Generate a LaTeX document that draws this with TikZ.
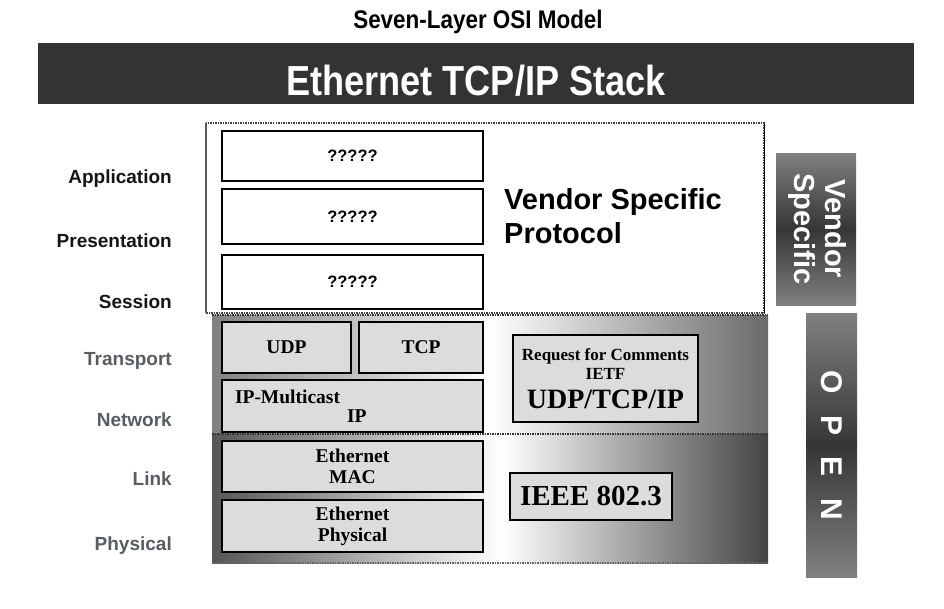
\documentclass[tikz,border=0pt]{standalone}
\usepackage{fontspec}
\setmainfont{Liberation Serif}
\setsansfont{Liberation Sans}
\newfontfamily\barfont[FakeStretch=0.86]{Liberation Sans}
\newfontfamily\titlefont[FakeStretch=0.88]{Liberation Sans}
\usetikzlibrary{calc}
\definecolor{bardark}{HTML}{333333}
\definecolor{labelgray}{HTML}{585D63}
\definecolor{labelblack}{HTML}{151515}
\definecolor{boxgray}{HTML}{DCDCDC}
\definecolor{upperleft}{HTML}{808080}
\definecolor{upperright}{HTML}{6A6A6A}
\definecolor{lowerleft}{HTML}{555555}
\definecolor{lowerright}{HTML}{444444}
\definecolor{tabgray}{HTML}{808080}
\definecolor{tabdark}{HTML}{363636}
\pgfdeclarehorizontalshading{upperband}{100bp}{color(0bp)=(upperleft); color(25bp)=(upperleft);
  color(50bp)=(white); color(75bp)=(upperright); color(100bp)=(upperright)}
\pgfdeclarehorizontalshading{lowerband}{100bp}{color(0bp)=(lowerleft); color(25bp)=(lowerleft);
  color(51bp)=(white); color(75bp)=(lowerright); color(100bp)=(lowerright)}
\tikzstyle{layer} = [anchor=base east, inner sep=0pt,
    font=\sffamily\bfseries\fontsize{19}{19}\selectfont]
\tikzstyle{qbox} = [rectangle, draw, line width=2pt, fill=white, inner sep=0pt,
    font=\sffamily\bfseries\fontsize{16.5}{16.5}\selectfont]
\tikzstyle{gbox} = [rectangle, draw, line width=2pt, fill=boxgray, inner sep=0pt,
    align=center, font=\bfseries\fontsize{19.5}{21}\selectfont]
\tikzstyle{stdbox} = [rectangle, draw, line width=1.2pt, fill=boxgray, inner sep=0pt,
    align=center]
\tikzstyle{tab} = [rectangle, top color=tabgray, bottom color=tabgray, middle color=tabdark,
    text=white, inner sep=0pt, font=\sffamily\bfseries]
\tikzstyle{edge} = [densely dotted, line width=1.5pt]

\begin{document}
\begin{tikzpicture}[x=1pt,y=-1pt]
    \useasboundingbox (0,0) rectangle (944,608);
    % Title and bar
    \node (title) at (478,22) {\titlefont\bfseries\fontsize{25.5}{25.5}\selectfont Seven-Layer OSI Model};
    \node[rectangle, fill=bardark, minimum width=876pt, minimum height=61pt, inner sep=0pt,
      text=white, text height=44pt, text depth=0pt] (stack) at (476,73.5)
      {\barfont\bfseries\fontsize{42}{42}\selectfont Ethernet TCP/IP Stack};
    % Bands
    \draw[edge, darkgray] (206,123) rectangle (764,313);
    \draw[line width=1.5pt, gray!70!black] (206,123) -- (206,313);
    \draw[line width=1pt, black] (764,123) -- (764,313);
    \shade[shading=upperband] (212,315) rectangle (768,434);
    \shade[shading=lowerband] (212,434) rectangle (768,563);
    \draw[edge, black!80] (212,315) -- (768,315);
    \draw[edge, black!80] (212,434) -- (768,434);
    \draw[edge, black!60] (212,563) -- (768,563);
    % OSI layers
    \node[layer, text=labelblack] (application) at (172,183) {Application};
    \node[layer, text=labelblack] (presentation) at (172,247) {Presentation};
    \node[layer, text=labelblack] (session) at (172,308) {Session};
    \node[layer, text=labelgray] (transport) at (172,365) {Transport};
    \node[layer, text=labelgray] (network) at (172,426) {Network};
    \node[layer, text=labelgray] (link) at (172,485) {Link};
    \node[layer, text=labelgray] (physical) at (172,550) {Physical};
    % Stack boxes
    \node[qbox, minimum width=261pt, minimum height=50pt] (app) at (352.5,156) {?????};
    \node[qbox, minimum width=261pt, minimum height=55pt] (pres) at (352.5,216.5) {?????};
    \node[qbox, minimum width=261pt, minimum height=54pt] (sess) at (352.5,282) {?????};
    \node[anchor=west, align=left, inner sep=0pt,
      font=\sffamily\bfseries\fontsize{29}{34}\selectfont] (vendor) at (504,216)
      {Vendor Specific\\Protocol};
    \node[gbox, minimum width=129pt, minimum height=51pt] (udp) at (286.5,347.5) {UDP};
    \node[gbox, minimum width=124pt, minimum height=51pt] (tcp) at (421,347.5) {TCP};
    \node[gbox, minimum width=261pt, minimum height=52pt, text width=235pt, align=left,
      font=\bfseries\fontsize{19.5}{20}\selectfont] (ip) at (352.5,406)
      {IP-Multicast\\[-1pt]\hspace*{112pt}IP};
    \node[gbox, minimum width=261pt, minimum height=51pt] (mac) at (352.5,466.5) {Ethernet\\MAC};
    \node[gbox, minimum width=261pt, minimum height=52pt] (phy) at (352.5,526) {Ethernet\\Physical};
    \node[stdbox, minimum width=185pt, minimum height=87pt,
      font=\bfseries\fontsize{17}{19}\selectfont] (rfc) at (605.5,378.5)
      {Request for Comments\\IETF\\[10pt]{\fontsize{28}{28}\selectfont UDP/TCP/IP}};
    \node[stdbox, minimum width=162pt, minimum height=47pt,
      font=\bfseries\fontsize{29}{29}\selectfont] (ieee) at (591,496.5) {IEEE 802.3};
    % Side tabs
    \node[tab, minimum width=80pt, minimum height=152pt] (vtab) at (816,229)
      {\rotatebox{-90}{\fontsize{29}{30}\selectfont\begin{tabular}{@{}c@{}}Vendor\\Specific\end{tabular}}};
    \node[tab, minimum width=51pt, minimum height=264pt] (open) at (831.5,445)
      {\rotatebox{-90}{\fontsize{30}{30}\selectfont O\hspace{0.72em}P\hspace{0.72em}E\hspace{0.72em}N}};
\end{tikzpicture}
\end{document}
